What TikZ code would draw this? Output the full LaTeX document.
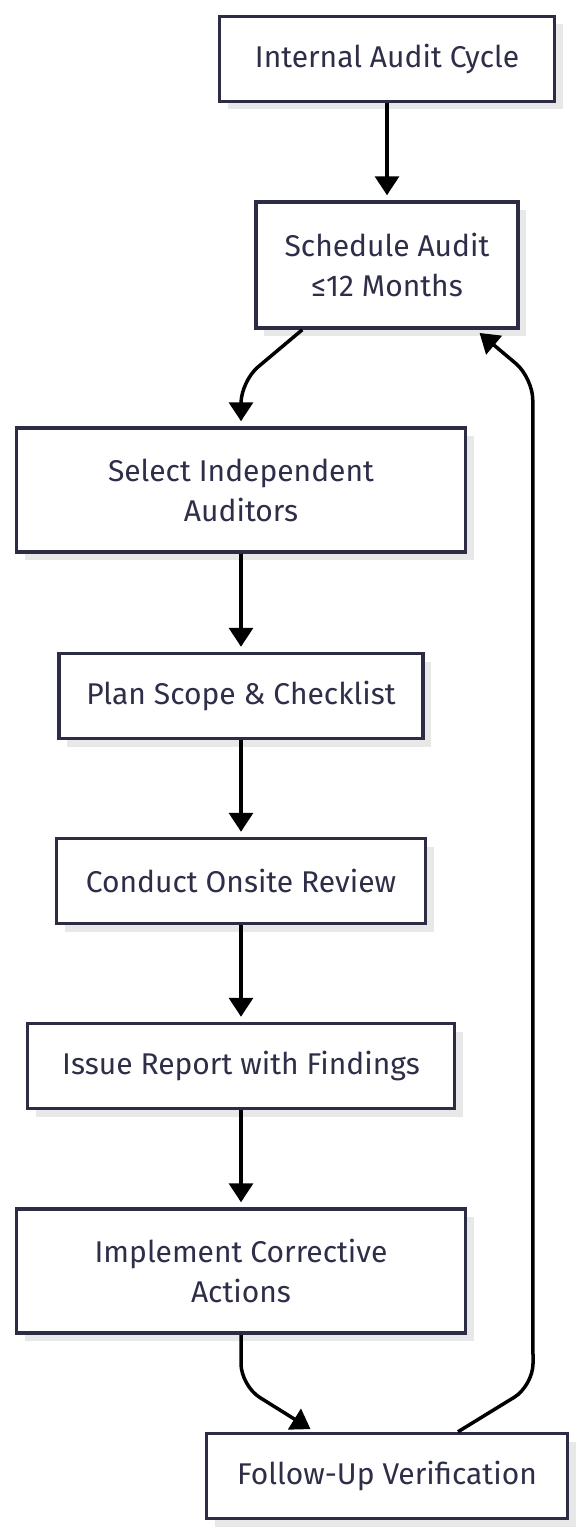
\documentclass[tikz,border=0pt]{standalone}
\usepackage{fontspec}
\setmainfont{Fira Sans}
\usetikzlibrary{arrows.meta,calc,shadows}
\definecolor{boxline}{RGB}{44,44,68}
\definecolor{boxtext}{RGB}{46,46,72}
\definecolor{boxshade}{RGB}{232,232,232}

\begin{document}
\begin{tikzpicture}[x=1pt, y=-1pt,
    every node/.style={font=\fontsize{30}{40}\selectfont, text=boxtext},
    procbox/.style={draw=boxline, line width=3.5pt, fill=white, align=center,
      inner sep=0pt, minimum height=85pt,
      drop shadow={shadow xshift=8pt, shadow yshift=-8pt, fill=boxshade, opacity=1}},
    flow/.style={draw=black, line width=3.5pt, -{Triangle[length=19pt,width=24pt]},
      shorten >=5pt, rounded corners=22pt}]
  \useasboundingbox (0,0) rectangle (586,1536);
  % the audit steps, top to bottom
  \node[procbox, minimum width=335] (cycle) at (387,59) {Internal Audit Cycle};
  \node[procbox, minimum width=262, minimum height=126] (sched) at (387,265) {Schedule Audit\\≤12 Months};
  \node[procbox, minimum width=449, minimum height=124] (select) at (241,490) {Select Independent\\Auditors};
  \node[procbox, minimum width=364] (plan) at (241,696) {Plan Scope \& Checklist};
  \node[procbox, minimum width=369] (onsite) at (241,881) {Conduct Onsite Review};
  \node[procbox, minimum width=427] (report) at (241,1066) {Issue Report with Findings};
  \node[procbox, minimum width=449, minimum height=124] (correct) at (241,1271) {Implement Corrective\\Actions};
  \node[procbox, minimum width=361] (verify) at (387,1476) {Follow-Up Verification};
  % straight links
  \draw[flow] (cycle) -- (sched);
  \draw[flow] (select) -- (plan);
  \draw[flow] (plan) -- (onsite);
  \draw[flow] (onsite) -- (report);
  \draw[flow] (report) -- (correct);
  % bent links
  \draw[flow] ($(sched.south west)+(48,0)$) -- ($(select.north)+(0,-45)$) -- (select.north);
  \draw[flow] (correct.south) -- ($(correct.south)+(0,51)$) -- ($(verify.north west)+(110,0)$);
  % loop back from the follow-up to the schedule
  \draw[flow] ($(verify.north)+(71,0)$) -- ($(verify.north)+(146,-46)$)
    -- ($(sched.south east)+(13,48)$) -- ($(sched.south east)+(-44,0)$);
\end{tikzpicture}
\end{document}
